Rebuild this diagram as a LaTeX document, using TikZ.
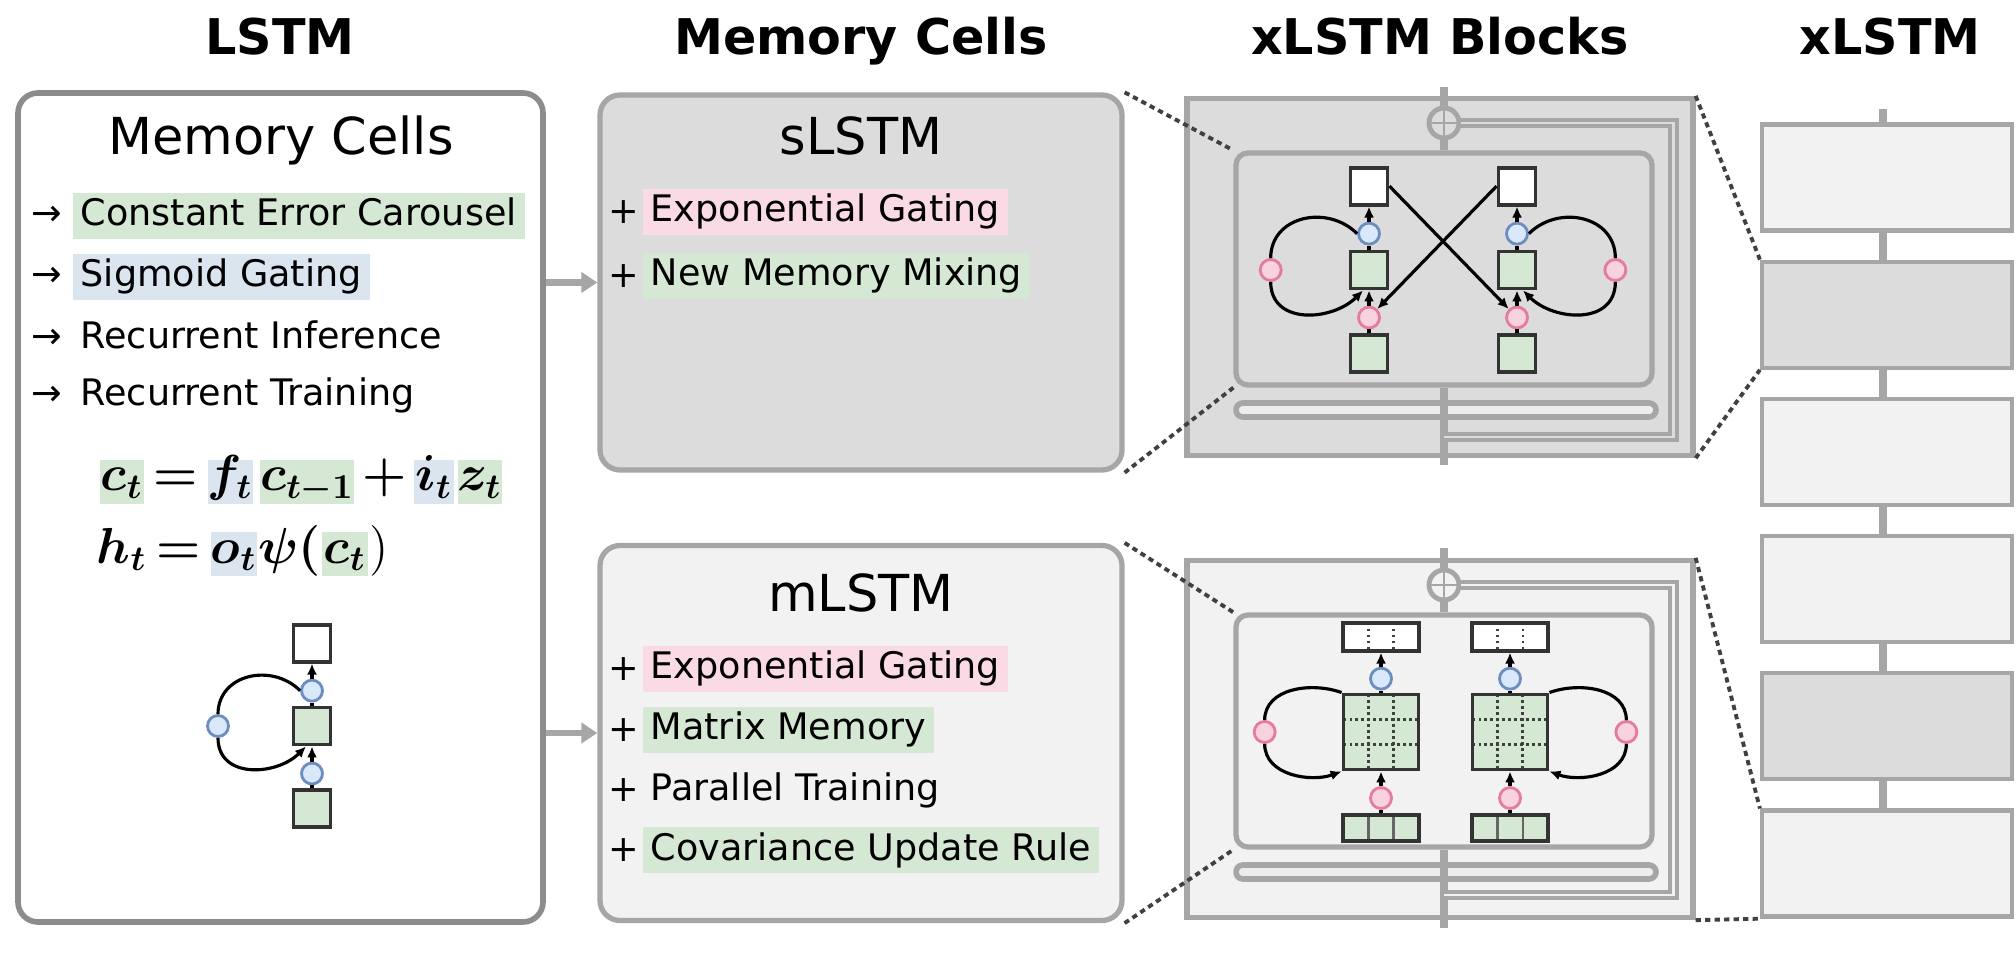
\documentclass[tikz,border=0pt]{standalone}
\usepackage{fontspec}
\setmainfont{DejaVu Sans}
\usepackage{bm}
\usetikzlibrary{positioning,arrows.meta}

\definecolor{hlgreen}{HTML}{D5E8D4}
\definecolor{hlblue}{HTML}{DAE5F0}
\definecolor{hlpink}{HTML}{FADAE4}
\definecolor{gblue}{HTML}{6C8EBF}
\definecolor{lblue}{HTML}{DAE8FC}
\definecolor{gpink}{HTML}{E57CA0}
\definecolor{lpink}{HTML}{F8D3DF}
\definecolor{sfill}{HTML}{DCDCDC}
\definecolor{mfill}{HTML}{F2F2F2}
\definecolor{edgegray}{HTML}{A6A6A6}
\definecolor{lstmgray}{HTML}{8C8C8C}

\begin{document}
\begin{tikzpicture}[
  every node/.style={font=\fontsize{10.4}{12}\selectfont},
  head/.style={font=\fontsize{14}{16}\selectfont\bfseries, anchor=base},
  celltitle/.style={font=\fontsize{14.5}{16}\selectfont, anchor=base},
  cellbox/.style={draw=edgegray, line width=1.5pt, rounded corners=0.2cm, minimum width=5.22cm, minimum height=3.75cm},
  item/.style={anchor=west, text height=0.27cm, text depth=0.07cm, inner xsep=0.08cm, inner ysep=0.06cm},
  bul/.style={inner sep=0pt},
  eq/.style={font=\fontsize{14}{16}\selectfont, inner sep=0pt, minimum height=0.44cm, text height=0.27cm, text depth=0.09cm},
  sq/.style={draw=black!80, line width=1.1pt, fill=hlgreen, minimum size=0.37cm, inner sep=0pt},
  hsq/.style={sq, fill=white},
  ogate/.style={circle, draw=gblue, fill=lblue, line width=0.8pt, minimum size=0.21cm, inner sep=0pt},
  igate/.style={ogate, draw=gpink, fill=lpink},
  wire/.style={line width=0.9pt},
  flow/.style={wire, -{Latex[length=0.11cm, width=0.1cm]}},
  mat/.style={sq, minimum size=0.75cm, path picture={
    \draw[black!75, densely dotted, line width=0.7pt]
      ([xshift=-0.125cm]path picture bounding box.north) -- ([xshift=-0.125cm]path picture bounding box.south)
      ([xshift=0.125cm]path picture bounding box.north) -- ([xshift=0.125cm]path picture bounding box.south)
      ([yshift=-0.125cm]path picture bounding box.west) -- ([yshift=-0.125cm]path picture bounding box.east)
      ([yshift=0.125cm]path picture bounding box.west) -- ([yshift=0.125cm]path picture bounding box.east);}},
  vec/.style={hsq, minimum width=0.76cm, minimum height=0.28cm, path picture={
    \draw[black!75, densely dotted, line width=0.7pt]
      ([xshift=-0.127cm]path picture bounding box.north) -- ([xshift=-0.127cm]path picture bounding box.south)
      ([xshift=0.127cm]path picture bounding box.north) -- ([xshift=0.127cm]path picture bounding box.south);}},
  kvec/.style={sq, minimum width=0.76cm, minimum height=0.26cm, path picture={
    \draw[black!60, line width=0.7pt]
      ([xshift=-0.127cm]path picture bounding box.north) -- ([xshift=-0.127cm]path picture bounding box.south)
      ([xshift=0.127cm]path picture bounding box.north) -- ([xshift=0.127cm]path picture bounding box.south);}},
  blockbox/.style={draw=edgegray, line width=1.5pt, minimum width=5.06cm, minimum height=3.57cm},
  innerbox/.style={draw=edgegray, line width=1.5pt, rounded corners=0.12cm, minimum width=4.16cm, minimum height=2.32cm},
  bar/.style={draw=edgegray, line width=1.6pt, rounded corners=0.07cm, minimum width=4.2cm, minimum height=0.14cm, inner sep=0pt, fill=white!50!sfill},
  addnode/.style={circle, draw=edgegray, line width=1.4pt, minimum size=0.3cm, inner sep=0pt, path picture={
    \draw[edgegray, line width=0.8pt] (path picture bounding box.north) -- (path picture bounding box.south)
      (path picture bounding box.west) -- (path picture bounding box.east);}},
  stem/.style={draw=edgegray, line width=2.2pt},
  skip/.style={draw=edgegray, line width=1.1pt, double distance=0.025cm},
  stackbox/.style={draw=edgegray, line width=1.2pt, minimum width=2.5cm, minimum height=1.06cm},
  zoomline/.style={black!75, line width=1.1pt, dash pattern=on 1.5pt off 1.2pt},
  feed/.style={draw=edgegray, line width=1.8pt, -{Triangle[length=0.16cm, width=0.2cm]}}
]
\useasboundingbox (0,0) rectangle (20.16,9.76);

% headings
\node[head] (hd1) at (2.80,9.21) {LSTM};
\node[head] (hd2) at (8.61,9.21) {Memory Cells};
\node[head] (hd3) at (14.40,9.21) {xLSTM Blocks};
\node[head] (hd4) at (18.90,9.21) {xLSTM};

% LSTM column
\node[draw=lstmgray, fill=white, line width=1.6pt, rounded corners=0.2cm, minimum width=5.25cm, minimum height=8.29cm] (lstm) at (2.805,4.685) {};
\node[celltitle] (lt) at (2.81,8.21) {Memory Cells};
\node[item, fill=hlgreen] (l1) at (0.72,7.60) {Constant Error Carousel};
\node[item, fill=hlblue] (l2) at (0.72,6.99) {Sigmoid Gating};
\node[item] (l3) at (0.72,6.37) {Recurrent Inference};
\node[item] (l4) at (0.72,5.80) {Recurrent Training};
\node[bul, left=0.09cm of l1] (a1) {→};
\node[bul, left=0.09cm of l2] (a2) {→};
\node[bul, left=0.09cm of l3] (a3) {→};
\node[bul, left=0.09cm of l4] (a4) {→};

\node[eq, fill=hlgreen, minimum width=0.44cm] (e1) at (1.22,4.94) {$\bm{c_t}$};
\node[eq, minimum width=0.61cm, right=0cm of e1] (e2) {$\bm{=}$};
\node[eq, fill=hlblue, minimum width=0.36cm, right=0cm of e2] (e3) {$\bm{f_t}$};
\node[eq, fill=hlgreen, minimum width=0.71cm, right=0.06cm of e3] (e4) {$\bm{c_{t-1}}$};
\node[eq, minimum width=0.57cm, right=0cm of e4] (e5) {$\bm{+}$};
\node[eq, fill=hlblue, minimum width=0.40cm, right=0cm of e5] (e6) {$\bm{i_t}$};
\node[eq, fill=hlgreen, minimum width=0.39cm, right=0.02cm of e6] (e7) {$\bm{z_t}$};
\node[eq, minimum width=0.44cm, below=0.27cm of e1] (g1) {$\bm{h_t}$};
\node[eq, minimum width=0.61cm, right=0cm of g1] (g2) {$\bm{=}$};
\node[eq, fill=hlblue, minimum width=0.46cm, right=0cm of g2] (g3) {$\bm{o_t}$};
\node[eq, minimum width=0.49cm, right=0cm of g3] (g4) {$\bm{\psi(}$};
\node[eq, fill=hlgreen, minimum width=0.46cm, right=0cm of g4] (g5) {$\bm{c_t}$};
\node[eq, minimum width=0.2cm, right=0cm of g5] (g6) {$)$};

\node[sq] (c0) at (3.12,2.50) {};
\node[hsq, above=0.42cm of c0] (h0) {};
\node[sq, below=0.42cm of c0] (z0) {};
\node[ogate, above=0.03cm of c0] (o0) {};
\node[ogate, above=0.03cm of z0] (i0) {};
\node[ogate] (f0) at (2.18,2.50) {};
\draw[wire] (c0) -- (o0);
\draw[flow] (o0) -- (h0);
\draw[wire] (z0) -- (i0);
\draw[flow] (i0) -- (c0);
\draw[wire] (o0.west) to[out=135, in=90, looseness=1.2] (f0.north);
\draw[flow] (f0.south) to[out=270, in=225, looseness=1.2] ([xshift=-0.06cm]c0.south);

% memory cells column
\node[cellbox, fill=sfill] (scell) at (8.61,6.935) {};
\node[cellbox, fill=mfill] (mcell) at (8.61,2.43) {};
\draw[feed] (lstm.east |- scell) -- (scell.west);
\draw[feed] (lstm.east |- mcell) -- (mcell.west);

\node[celltitle] (st) at (8.61,8.21) {sLSTM};
\node[item, fill=hlpink] (s1) at (6.42,7.64) {Exponential Gating};
\node[item, fill=hlgreen] (s2) at (6.42,7.00) {New Memory Mixing};
\node[bul, left=0.02cm of s1] (p1) {+};
\node[bul, left=0.02cm of s2] (p2) {+};

\node[celltitle] (mt) at (8.61,3.64) {mLSTM};
\node[item, fill=hlpink] (m1) at (6.42,3.07) {Exponential Gating};
\node[item, fill=hlgreen] (m2) at (6.42,2.46) {Matrix Memory};
\node[item] (m3) at (6.42,1.86) {Parallel Training};
\node[item, fill=hlgreen] (m4) at (6.42,1.26) {Covariance Update Rule};
\node[bul, left=0.02cm of m1] (q1) {+};
\node[bul, left=0.02cm of m2] (q2) {+};
\node[bul, left=0.02cm of m3] (q3) {+};
\node[bul, left=0.02cm of m4] (q4) {+};

% sLSTM block
\node[blockbox, fill=sfill] (sblk) at (14.40,6.99) {};
\node[innerbox, fill=sfill] (sin) at (14.44,7.07) {};
\node[bar] (sbar) at (14.46,5.66) {};
\node[addnode, fill=sfill] (sadd) at (14.44,8.53) {};
\coordinate (stop) at (14.44,8.89);
\coordinate (sbot) at (14.44,5.11);
\coordinate (sj) at (14.44,5.39);
\draw[stem] (stop) -- (sadd);
\draw[stem] (sadd) -- (sin);
\draw[stem] (sin) -- (sbot);
\draw[skip, double=sfill] (sadd.east) -- ++(2.12,0) |- (sj);

\node[sq] (cL) at (13.69,7.06) {};
\node[hsq, above=0.43cm of cL] (hL) {};
\node[sq, below=0.43cm of cL] (zL) {};
\node[ogate, above=0.04cm of cL] (oL) {};
\node[igate, above=0.04cm of zL] (iL) {};
\node[igate, left=0.66cm of cL] (fL) {};
\node[sq] (cR) at (15.17,7.06) {};
\node[hsq, above=0.43cm of cR] (hR) {};
\node[sq, below=0.43cm of cR] (zR) {};
\node[ogate, above=0.04cm of cR] (oR) {};
\node[igate, above=0.04cm of zR] (iR) {};
\node[igate, right=0.66cm of cR] (fR) {};
\draw[wire] (cL) -- (oL);
\draw[flow] (oL) -- (hL);
\draw[wire] (zL) -- (iL);
\draw[flow] (iL) -- (cL);
\draw[wire] (cR) -- (oR);
\draw[flow] (oR) -- (hR);
\draw[wire] (zR) -- (iR);
\draw[flow] (iR) -- (cR);
\draw[wire] (oL.west) to[out=135, in=90, looseness=1.2] (fL.north);
\draw[flow] (fL.south) to[out=270, in=225, looseness=1.2] ([xshift=-0.06cm]cL.south);
\draw[wire] (oR.east) to[out=45, in=90, looseness=1.2] (fR.north);
\draw[flow] (fR.south) to[out=270, in=315, looseness=1.2] ([xshift=0.06cm]cR.south);
\draw[flow] (hL.east) -- (iR);
\draw[flow] (hR.west) -- (iL);

% mLSTM block
\node[blockbox, fill=mfill] (mblk) at (14.40,2.37) {};
\node[innerbox, fill=mfill] (min) at (14.44,2.45) {};
\node[bar] (mbar) at (14.46,1.04) {};
\node[addnode, fill=mfill] (madd) at (14.44,3.91) {};
\coordinate (mtop) at (14.44,4.28);
\coordinate (mbot) at (14.44,0.48);
\coordinate (mj) at (14.44,0.81);
\draw[stem] (mtop) -- (madd);
\draw[stem] (madd) -- (min);
\draw[stem] (min) -- (mbot);
\draw[skip, double=mfill] (madd.east) -- ++(2.12,0) |- (mj);

\node[mat] (mL) at (13.81,2.44) {};
\node[vec, above=0.40cm of mL] (vL) {};
\node[ogate, above=0.02cm of mL] (qL) {};
\node[kvec, below=0.42cm of mL] (kL) {};
\node[igate, above=0.035cm of kL] (jL) {};
\node[igate, left=0.65cm of mL] (gL) {};
\node[mat] (mR) at (15.10,2.44) {};
\node[vec, above=0.40cm of mR] (vR) {};
\node[ogate, above=0.02cm of mR] (qR) {};
\node[kvec, below=0.42cm of mR] (kR) {};
\node[igate, above=0.035cm of kR] (jR) {};
\node[igate, right=0.65cm of mR] (gR) {};
\draw[wire] (mL) -- (qL);
\draw[flow] (qL) -- (vL);
\draw[wire] (kL) -- (jL);
\draw[flow] (jL) -- (mL);
\draw[wire] (mR) -- (qR);
\draw[flow] (qR) -- (vR);
\draw[wire] (kR) -- (jR);
\draw[flow] (jR) -- (mR);
\draw[wire] (mL.north west) to[out=160, in=90] (gL.north);
\draw[flow] (gL.south) to[out=270, in=200] (mL.south west);
\draw[wire] (mR.north east) to[out=20, in=90] (gR.north);
\draw[flow] (gR.south) to[out=270, in=340] (mR.south east);

% xLSTM stack
\coordinate (xtop) at (18.83,8.67);
\coordinate (xbot) at (18.83,0.61);
\draw[stem] (xtop) -- (xbot);
\node[stackbox, fill=mfill] (x1) at (18.87,7.985) {};
\node[stackbox, fill=sfill, below=0.27cm of x1] (x2) {};
\node[stackbox, fill=mfill, below=0.27cm of x2] (x3) {};
\node[stackbox, fill=mfill, below=0.27cm of x3] (x4) {};
\node[stackbox, fill=sfill, below=0.27cm of x4] (x5) {};
\node[stackbox, fill=mfill, below=0.27cm of x5] (x6) {};

% zoom lines
\draw[zoomline] (scell.north east) -- (sin.north west);
\draw[zoomline] (scell.south east) -- (sin.south west);
\draw[zoomline] (mcell.north east) -- (min.north west);
\draw[zoomline] (mcell.south east) -- (min.south west);
\draw[zoomline] (sblk.north east) -- (x2.north west);
\draw[zoomline] (sblk.south east) -- (x2.south west);
\draw[zoomline] (mblk.north east) -- (x6.north west);
\draw[zoomline] (mblk.south east) -- (x6.south west);
\end{tikzpicture}
\end{document}
